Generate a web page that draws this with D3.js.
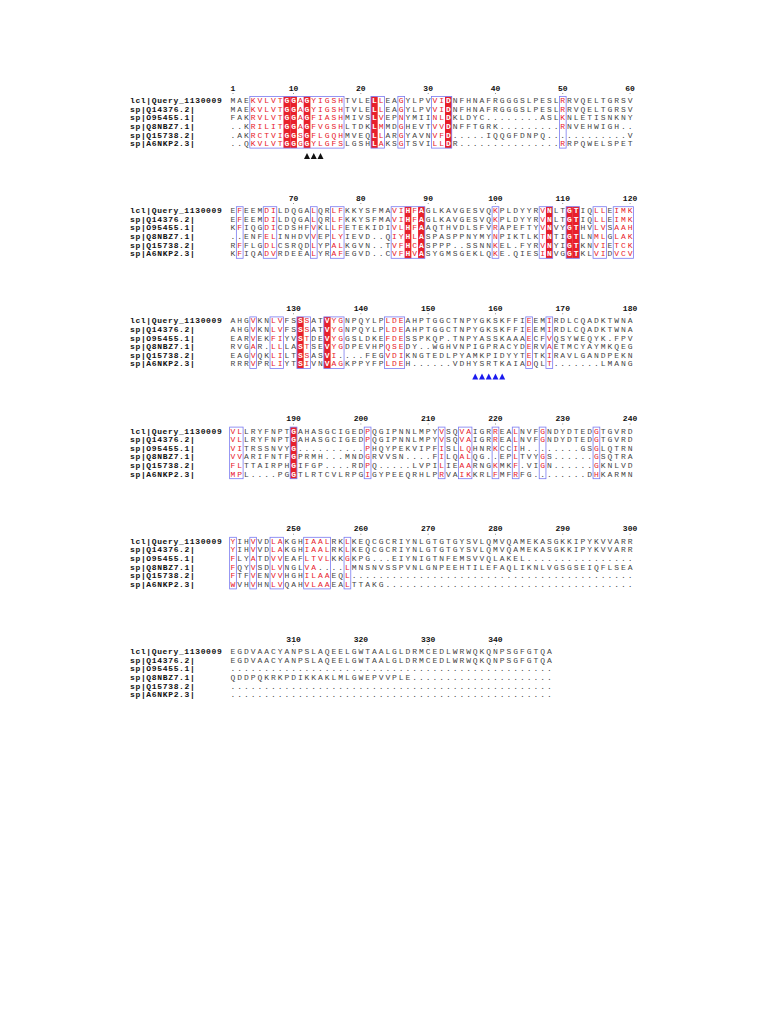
<!DOCTYPE html>
<html><head><meta charset="utf-8">
<script src="https://cdn.jsdelivr.net/npm/d3@7"></script>
<style>body{margin:0;background:#fff}</style></head>
<body><svg id="c" width="768" height="1024"></svg>
<script>
const seqNames = ["lcl|Query_1130009","sp|Q14376.2|","sp|O95455.1|","sp|Q8NBZ7.1|","sp|Q15738.2|","sp|A6NKP2.3|"];
const seqQuery = ["MAEKVLVTGGAGYIGSHTVLELLEAGYLPVVIDNFHNAFRGGGSLPESLRRVQELTGRSV","EFEEMDILDQGALQRLFKKYSFMAVIHFAGLKAVGESVQKPLDYYRVNLTGTIQLLEIMK","AHGVKNLVFSSSATVYGNPQYLPLDEAHPTGGCTNPYGKSKFFIEEMIRDLCQADKTWNA","VLLRYFNPTGAHASGCIGEDPQGIPNNLMPYVSQVAIGRREALNVFGNDYDTEDGTGVRD","YIHVVDLAKGHIAALRKLKEQCGCRIYNLGTGTGYSVLQMVQAMEKASGKKIPYKVVARR","EGDVAACYANPSLAQEELGWTAALGLDRMCEDLWRWQKQNPSGFGTQA"];
const seqQ14376 = seqQuery.slice();
const seqO95455 = ["FAKRVLVTGGAGFIASHMIVSLVEPNYMIINLDKLDYC........ASLKNLETISNKNY","KFIQGDICDSHFVKLLFETEKIDIVLHFAAQTHVDLSFVRAPEFTYVNVYGTHVLVSAAH","EARVEKFIYVSTDEVYGGSLDKEFDESSPKQP.TNPYASSKAAAECFVQSYWEQYK.FPV","VITRSSNVYG..........PHQYPEKVIPFISLLQHNRKCCIH........GSGLQTRN","FLYATDVVEAFLTVLKKGKPG...EIYNIGTNFEMSVVQLAKEL","."];
const seqQ8NBZ7 = ["..KRILITGGAGFVGSHLTDKLMMDGHEVTVVDNFFTGRK.........RNVEHWIGH..","..ENFELINHDVVEPLYIEVD..QIYHLASPASPPNYMYNPIKTLKTNTIGTLNMLGLAK","RVGAR.LLLASTSEVYGDPEVHPQSEDY..WGHVNPIGPRACYDERVAETMCYAYMKQEG","VVARIFNTFGPRMH...MNDGRVVSN....FILQALQG..EPLTVYGS......GSQTRA","FQYVSDLVNGLVA....LMNSNVSSPVNLGNPEEHTILEFAQLIKNLVGSGSEIQFLSEA","QDDPQKRKPDIKKAKLMLGWEPVVPLE"];
const seqQ15738 = [".AKRCTVIGGSGFLGQHMVEQLLARGYAVNVFD.....IQQGFDNPQ............V","RFFLGDLCSRQDLYPALKGVN..TVFHCASPPP..SSNNKEL.FYRVNYIGTKNVIETCK","EAGVQKLILTSSASVI....FEGVDIKNGTEDLPYAMKPIDYYTETKIRAVLGANDPEKN","FLTTAIRPHGIFGP....RDPQ.....LVPILIEAARNGKMKF.VIGN......GKNLVD","FTFVENVVHGHILAAEQL","."];
const seqA6NKP2 = ["..QKVLVTGGGGYLGFSLGSHLAKSGTSVILLDR...............RRPQWELSPET","KFIQADVRDEEALYRAFEGVD..CVFHVASYGMSGEKLQKE.QIESINVGGTKLVIDVCV","RRRVPRLIYTSIVNVAGKPPYFPLDEH......VDHYSRTKAIADQLT.......LMANG","MPL....PGGTLRTCVLRPGIGYPEEQRHLPRVAIKKRLFMFRFG........DHKARMN","WVHVHNLVQAHVLAAEALTTAKG","."];
const blockLengths = [60,60,60,60,60,48];
const strictCols = [9,10,12,22,33,87,89,108,111,112,131,135,190];
const similarCols = [4,5,6,7,8,11,13,14,15,16,17,23,26,31,32,50,62,66,67,73,76,77,85,86,88,100,107,115,116,118,119,120,124,127,128,132,136,137,144,145,146,165,168,181,182,201,212,215,216,220,223,227,235,241,244,247,248,252,253,254,255,258];
const tickLabels = [1,10,20,30,40,50,60,70,80,90,100,110,120,130,140,150,160,170,180,190,200,210,220,230,240,250,260,270,280,290,300,310,320,330,340];
const blackTriangles = [12,13,14];
const blueTriangles = [157,158,159,160,161];

const allSeqs = [seqQuery,seqQ14376,seqO95455,seqQ8NBZ7,seqQ15738,seqA6NKP2]
  .map(s => s.map((b,i)=> b.padEnd(blockLengths[i], ".")).join(""));

const svg = d3.select("#c");
const colX = d3.scaleLinear().domain([0,59]).range([233, 233+59*6.73]);
const blockY = d3.scaleLinear().domain([0,1]).range([0,110.2]);
const rowY = d3.scaleBand().domain(d3.range(6)).range([96.5, 96.5+6*8.6]);
const strictSet = new Set(strictCols), simSet = new Set(similarCols);
const blockStart = d3.cumsum([0, ...blockLengths.slice(0,-1)]);

blockLengths.forEach((len, b) => {
  const g = svg.append("g").attr("transform", `translate(0,${blockY(b)})`);
  const start = blockStart[b];
  const top = rowY(0), bottom = rowY(5)+rowY.bandwidth(), w = 6.73;
  for (let i=0;i<len;i++){
    const col = start+i+1;
    if (strictSet.has(col)) g.append("rect").attr("x", colX(i)-w/2).attr("y", top).attr("width", w).attr("height", bottom-top).attr("fill","#e8202a");
  }
  let i=0;
  while(i<len){
    const col=start+i+1;
    if (strictSet.has(col)||simSet.has(col)){
      let j=i; while(j+1<len && (strictSet.has(start+j+2)||simSet.has(start+j+2))) j++;
      g.append("rect").attr("x", colX(i)-w/2).attr("y", top).attr("width", colX(j)-colX(i)+w).attr("height", bottom-top)
        .attr("fill","none").attr("stroke","#7a7af0").attr("stroke-width",0.8);
      i=j+1;
    } else i++;
  }
  tickLabels.filter(t => t>start && t<=start+len).forEach(t=>{
    const x = colX(t-start-1);
    g.append("text").attr("x",x).attr("y",90.5).attr("text-anchor","middle")
      .attr("font-family","Liberation Mono").attr("font-weight","bold").attr("font-size",8).attr("fill","#111").text(t);
    g.append("rect").attr("x",x-0.4).attr("y",93).attr("width",0.8).attr("height",0.8).attr("fill","#555");
  });
  allSeqs.forEach((s, r) => {
    const y = rowY(r)+rowY.bandwidth()-2;
    g.append("text").attr("x",130).attr("y",y).attr("font-family","Liberation Mono").attr("font-weight","bold")
      .attr("font-size",8).attr("textLength", seqNames[r].length*5.4).attr("lengthAdjust","spacing")
      .attr("fill","#111").text(seqNames[r]);
    g.selectAll(null).data(s.slice(start,start+len).split("")).join("text")
      .attr("x",(d,k)=>colX(k)).attr("y",y).attr("text-anchor","middle")
      .attr("font-family","Liberation Mono").attr("font-size",8)
      .attr("font-weight",(d,k)=>strictSet.has(start+k+1)?"bold":"normal")
      .attr("fill",(d,k)=>{const c=start+k+1; if(strictSet.has(c)) return "#fff"; if(simSet.has(c)&&d!==".") return "#e8202a"; return "#444";})
      .text(d=>d);
  });
  [[blackTriangles,"#111"],[blueTriangles,"#1a1aee"]].forEach(([arr,col])=>{
    arr.filter(c=>c>start && c<=start+len).forEach(c=>{
      const x=colX(c-start-1), y=bottom+5;
      g.append("path").attr("d",`M${x-3},${y+6}L${x+3},${y+6}L${x},${y}Z`).attr("fill",col);
    });
  });
});
</script></body></html>
